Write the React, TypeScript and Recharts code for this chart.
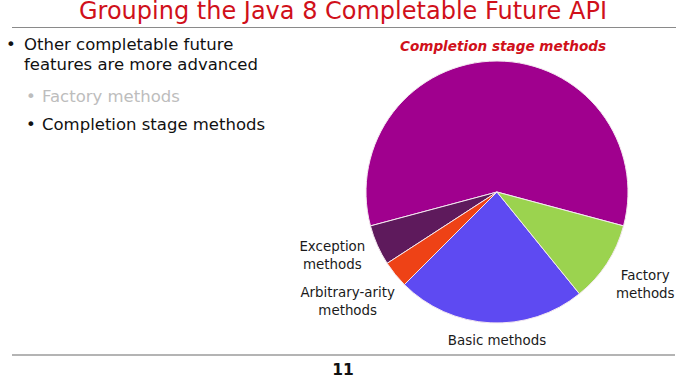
import { Cell, Pie, PieChart } from "recharts";

const CATEGORIES = ["Completion stage", "Exception", "Arbitrary-arity", "Basic", "Factory"];
const METHOD_COUNTS = [35, 3, 2, 14, 6];
const SLICE_COLORS = ["#a0008e", "#5e1a5c", "#ee4216", "#5e4af2", "#9bd34f"];
// the big slice is named by the chart title, so it has no label of its own
const LABEL_LINES = [[], ["Exception", "methods"], ["Arbitrary-arity", "methods"], ["Basic methods"], ["Factory", "methods"]];
// small hand nudges so the labels sit where the slide's "best fit" put them
const LABEL_NUDGE = [[0, 0], [-5, -2], [4, 9], [10, -2], [8, 5]];

const data = CATEGORIES.map((name, i) => ({ name, value: METHOD_COUNTS[i] }));

const SLIDE_FONT = '"DejaVu Sans", Verdana, sans-serif';
const RAD = Math.PI / 180;

function SliceLabel(props: any) {
  const { cx, cy, midAngle, outerRadius, index } = props;
  const lines = LABEL_LINES[index];
  if (!lines.length) return null;
  const lh = 18;
  const w = Math.max(...lines.map((l: string) => l.length)) * 7.5;
  const h = lines.length * lh;
  const cos = Math.cos(-midAngle * RAD);
  const sin = Math.sin(-midAngle * RAD);
  const r = outerRadius + 10;
  const x = cx + r * cos + (cos * w) / 2 + LABEL_NUDGE[index][0];
  const y = cy + r * sin + (sin * h) / 2 + LABEL_NUDGE[index][1];
  const y0 = y - ((lines.length - 1) * lh) / 2;
  return (
    <text x={x} y={y0} textAnchor="middle" dominantBaseline="central" fill="#1a1a1a" fontSize={13.4} fontFamily={SLIDE_FONT}>
      {lines.map((l: string, i: number) => (
        <tspan key={l} x={x} y={y0 + i * lh}>{l}</tspan>
      ))}
    </text>
  );
}

export default function App() {
  return (
    <div style={{ position: "absolute", left: 0, top: 0, width: 686, height: 386, background: "#fff", overflow: "hidden", fontFamily: SLIDE_FONT }}>
      <div style={{ position: "absolute", left: 0, width: 686, top: 0, lineHeight: "22px", textAlign: "center", color: "#d0101a", fontSize: 24, whiteSpace: "nowrap" }}>
        Grouping the Java 8 Completable Future API
      </div>
      <div style={{ position: "absolute", left: 12, top: 27, width: 664, height: 1, background: "#8a8a8a" }} />

      <div style={{ position: "absolute", left: 6, top: 35, fontSize: 16.5, lineHeight: "19.5px", color: "#111" }}>
        <span style={{ position: "absolute", left: 0 }}>•</span>
        <div style={{ paddingLeft: 18 }}>Other completable future<br />features are more advanced</div>
      </div>
      <div style={{ position: "absolute", left: 26, top: 87, fontSize: 16.5, lineHeight: "19.5px", color: "#bdbdbd" }}>
        <span style={{ position: "absolute", left: 0 }}>•</span>
        <div style={{ paddingLeft: 16 }}>Factory methods</div>
      </div>
      <div style={{ position: "absolute", left: 26, top: 114.5, fontSize: 16.5, lineHeight: "19.5px", color: "#111" }}>
        <span style={{ position: "absolute", left: 0 }}>•</span>
        <div style={{ paddingLeft: 16 }}>Completion stage methods</div>
      </div>

      <div style={{ position: "absolute", left: 0, top: 0 }}>
        <PieChart width={686} height={386} margin={{ top: 0, right: 0, bottom: 0, left: 0 }}>
          <text x={503} y={46} textAnchor="middle" dominantBaseline="central" fill="#d0101a" fontSize={13.6} fontWeight="bold" fontStyle="italic" fontFamily={SLIDE_FONT}>
            Completion stage methods
          </text>
          <Pie
            data={data}
            dataKey="value"
            nameKey="name"
            cx={497}
            cy={192}
            outerRadius={131}
            startAngle={-15}
            endAngle={345}
            stroke="#f4e8f0"
            strokeWidth={1}
            label={SliceLabel}
            labelLine={false}
            isAnimationActive={false}
          >
            {data.map((d, i) => (
              <Cell key={d.name} fill={SLICE_COLORS[i]} />
            ))}
          </Pie>
        </PieChart>
      </div>

      <div style={{ position: "absolute", left: 12, top: 354, width: 663, height: 2, background: "#b4b4b4" }} />
      <div style={{ position: "absolute", left: 0, width: 686, top: 361, textAlign: "center", fontSize: 15.5, fontWeight: "bold", color: "#111" }}>
        11
      </div>
    </div>
  );
}
